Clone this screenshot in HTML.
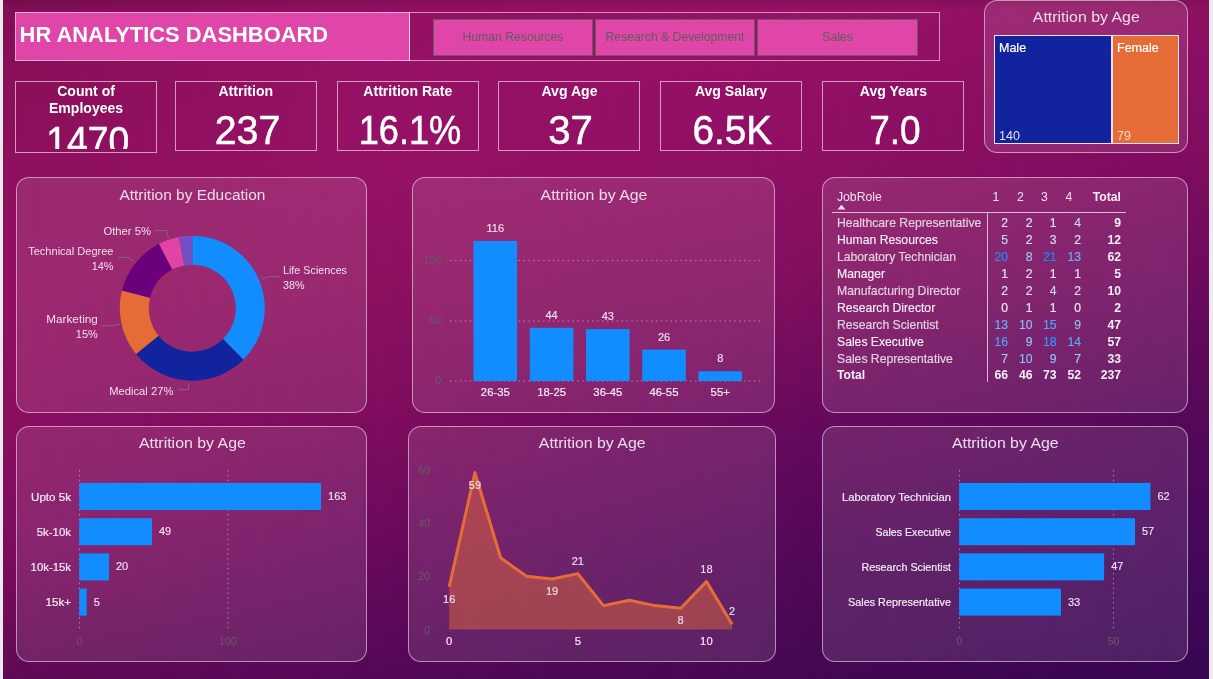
<!DOCTYPE html>
<html><head><meta charset="utf-8"><style>
*{box-sizing:border-box;margin:0;padding:0}
html,body{width:1213px;height:679px;overflow:hidden;background:#ebebeb;font-family:"Liberation Sans",sans-serif}
#cv{position:absolute;left:0;top:0;width:1213px;height:679px;overflow:hidden}
.bgl{position:absolute;left:0;top:0;width:1213px;height:679px}
.strip{position:absolute;top:0;height:679px;background:#ebebeb}
.panel{position:absolute;border:1px solid rgba(255,250,255,0.52);border-radius:13px;background:rgba(255,255,255,0.105)}
.kpi{position:absolute;top:81px;height:70px;width:142px;border:1px solid rgba(255,245,252,0.6);overflow:hidden;color:#fff;text-align:center;will-change:transform}
.kpi .t{position:absolute;left:0;right:0;top:0.6px;font-weight:bold;font-size:14.8px;line-height:17.3px}
.kpi .t span,.kpi .v span{display:inline-block;transform-origin:50% 50%}
.kpi .v{position:absolute;left:0;right:0;top:27.2px;padding-left:3px;font-size:40.2px;line-height:44px;white-space:nowrap;-webkit-text-stroke:0.5px #fff}
.btn{position:absolute;top:19px;height:37px;background:#e045a8;border:1px solid #6a5a64;color:#605e5c;font-size:12.2px;line-height:35px;text-align:center;white-space:nowrap;will-change:transform}
svg{position:absolute;left:0;top:0;will-change:transform}
svg text{font-family:"Liberation Sans",sans-serif}
</style></head><body><div id="cv"><div class="bgl" style="background:linear-gradient(to bottom,#740c4c 0px,#820e55 10px,#8a0f58 70px,#8e105e 166px,#921060 290px,#8a0f60 418px,#7e0c5e 540px,#600a55 679px);"></div>
<div class="bgl" style="background:linear-gradient(to bottom,#84105a 0px,#940f62 10px,#961266 70px,#961266 166px,#8c1060 290px,#7e0c5e 418px,#6a0a5c 540px,#520856 679px);-webkit-mask-image:linear-gradient(to right,transparent 9px,#000 390px);mask-image:linear-gradient(to right,transparent 9px,#000 390px);"></div>
<div class="bgl" style="background:linear-gradient(to bottom,#86105a 0px,#981268 10px,#941066 70px,#8e1064 166px,#800e5e 290px,#680a5c 418px,#540858 540px,#440852 679px);-webkit-mask-image:linear-gradient(to right,transparent 390px,#000 798px);mask-image:linear-gradient(to right,transparent 390px,#000 798px);"></div>
<div class="bgl" style="background:linear-gradient(to bottom,#800e58 0px,#8e1062 10px,#8c0f62 37px,#7e0c5e 166px,#6a0a5c 290px,#540858 418px,#46085a 540px,#380652 679px);-webkit-mask-image:linear-gradient(to right,transparent 798px,#000 1200px);mask-image:linear-gradient(to right,transparent 798px,#000 1200px);"></div>
<div class="abs" style="position:absolute;left:15px;top:12px;width:395px;height:49px;background:#e046a8;border:1px solid #eea8d8"></div>
<div style="position:absolute;left:409px;top:12px;width:531px;height:49px;border:1px solid rgba(255,255,255,0.55)"></div>
<div class="btn" style="left:433px;width:160px">Human Resources</div>
<div class="btn" style="left:595px;width:160px">Research &amp; Development</div>
<div class="btn" style="left:757px;width:161px">Sales</div>
<div class="kpi" style="left:15px;height:72px"><div class="t"><span style="transform:scaleX(0.95)">Count of<br>Employees</span></div><div style="position:absolute;left:0;right:0;top:0;height:67px;overflow:hidden"><div class="v" style="top:38.2px"><span style="transform:scaleX(0.93)">1470</span></div></div></div>
<div class="kpi" style="left:175px"><div class="t"><span style="transform:scaleX(0.95)">Attrition</span></div><div class="v"><span style="transform:scaleX(0.98)">237</span></div></div>
<div class="kpi" style="left:337px"><div class="t"><span style="transform:scaleX(0.95)">Attrition Rate</span></div><div class="v"><span style="transform:scaleX(0.9)">16.1%</span></div></div>
<div class="kpi" style="left:498px"><div class="t"><span style="transform:scaleX(0.95)">Avg Age</span></div><div class="v"><span style="transform:scaleX(1.0)">37</span></div></div>
<div class="kpi" style="left:660px"><div class="t"><span style="transform:scaleX(0.95)">Avg Salary</span></div><div class="v"><span style="transform:scaleX(0.965)">6.5K</span></div></div>
<div class="kpi" style="left:822px"><div class="t"><span style="transform:scaleX(0.95)">Avg Years</span></div><div class="v"><span style="transform:scaleX(0.92)">7.0</span></div></div>
<div class="panel" style="left:984px;top:0px;width:204px;height:153px;"></div>
<div class="panel" style="left:16px;top:177px;width:351px;height:236px;"></div>
<div class="panel" style="left:412px;top:177px;width:363px;height:236px;"></div>
<div class="panel" style="left:822px;top:177px;width:366px;height:236px;"></div>
<div class="panel" style="left:16px;top:426px;width:351px;height:236px;"></div>
<div class="panel" style="left:408px;top:426px;width:368px;height:236px;"></div>
<div class="panel" style="left:822px;top:426px;width:366px;height:236px;"></div>
<svg width="1213" height="679" viewBox="0 0 1213 679"><text x="1086.3" y="22.3" font-size="14.9" fill="#ecdcea" text-anchor="middle" textLength="107" lengthAdjust="spacingAndGlyphs">Attrition by Age</text><text x="192.4" y="199.5" font-size="14.9" fill="#ecdcea" text-anchor="middle" textLength="146" lengthAdjust="spacingAndGlyphs">Attrition by Education</text><text x="594" y="199.5" font-size="14.9" fill="#ecdcea" text-anchor="middle" textLength="106.8" lengthAdjust="spacingAndGlyphs">Attrition by Age</text><text x="192.4" y="448" font-size="14.9" fill="#ecdcea" text-anchor="middle" textLength="106.9" lengthAdjust="spacingAndGlyphs">Attrition by Age</text><text x="592.2" y="448" font-size="14.9" fill="#ecdcea" text-anchor="middle" textLength="106.7" lengthAdjust="spacingAndGlyphs">Attrition by Age</text><text x="1005.3" y="448" font-size="14.9" fill="#ecdcea" text-anchor="middle" textLength="106.7" lengthAdjust="spacingAndGlyphs">Attrition by Age</text><text x="19.6" y="42" font-size="22" font-weight="bold" fill="#fff" textLength="308.5" lengthAdjust="spacingAndGlyphs">HR ANALYTICS DASHBOARD</text><rect x="994.5" y="35.5" width="117" height="108" fill="#12239e" stroke="#f0e0f0" stroke-width="1"/><rect x="1112.5" y="35.5" width="66" height="108" fill="#e66c37" stroke="#f0e0f0" stroke-width="1"/><text x="999" y="52" font-size="12.5" fill="#fff" text-anchor="start" font-weight="normal"  stroke="#fff" stroke-width="0.2">Male</text><text x="1117" y="52" font-size="12.5" fill="#fff" text-anchor="start" font-weight="normal"  stroke="#fff" stroke-width="0.2">Female</text><text x="999" y="140" font-size="12.5" fill="#e8e0f0" text-anchor="start" font-weight="normal" >140</text><text x="1117" y="140" font-size="12.5" fill="#f5d8c8" text-anchor="start" font-weight="normal" >79</text><path d="M192.30,235.70 A72.5,72.5 0 0 1 243.40,359.63 L222.96,339.06 A43.5,43.5 0 0 0 192.30,264.70 Z" fill="#118dff"/><path d="M243.40,359.63 A72.5,72.5 0 0 1 136.05,353.94 L158.55,335.64 A43.5,43.5 0 0 0 222.96,339.06 Z" fill="#12239e"/><path d="M136.05,353.94 A72.5,72.5 0 0 1 121.97,290.60 L150.10,297.64 A43.5,43.5 0 0 0 158.55,335.64 Z" fill="#e66c37"/><path d="M121.97,290.60 A72.5,72.5 0 0 1 159.00,243.80 L172.32,269.56 A43.5,43.5 0 0 0 150.10,297.64 Z" fill="#6b007b"/><path d="M159.00,243.80 A72.5,72.5 0 0 1 178.92,236.94 L184.27,265.45 A43.5,43.5 0 0 0 172.32,269.56 Z" fill="#e044a7"/><path d="M178.92,236.94 A72.5,72.5 0 0 1 192.30,235.70 L192.30,264.70 A43.5,43.5 0 0 0 184.27,265.45 Z" fill="#744ec2"/><text x="283" y="274" font-size="11" fill="#eee0ee" text-anchor="start" textLength="64" lengthAdjust="spacingAndGlyphs">Life Sciences</text><text x="283" y="289" font-size="11" fill="#eee0ee" text-anchor="start" textLength="21.5" lengthAdjust="spacingAndGlyphs">38%</text><text x="109.2" y="395" font-size="11" fill="#eee0ee" text-anchor="start" textLength="64.2" lengthAdjust="spacingAndGlyphs">Medical 27%</text><text x="97.8" y="323" font-size="11" fill="#eee0ee" text-anchor="end" textLength="51.5" lengthAdjust="spacingAndGlyphs">Marketing</text><text x="97.8" y="338" font-size="11" fill="#eee0ee" text-anchor="end" textLength="22" lengthAdjust="spacingAndGlyphs">15%</text><text x="113.5" y="255" font-size="11" fill="#eee0ee" text-anchor="end" textLength="85.3" lengthAdjust="spacingAndGlyphs">Technical Degree</text><text x="113.5" y="270" font-size="11" fill="#eee0ee" text-anchor="end" textLength="21.8" lengthAdjust="spacingAndGlyphs">14%</text><text x="151" y="235" font-size="11" fill="#eee0ee" text-anchor="end" textLength="47.6" lengthAdjust="spacingAndGlyphs">Other 5%</text><polyline points="155,230.5 166.5,230.5 168.4,237.6" fill="none" stroke="#8a6282" stroke-width="1"/><polyline points="117.7,257.3 128.2,257.5 134.5,261.9" fill="none" stroke="#8a6282" stroke-width="1"/><polyline points="101.4,325.7 113.8,325.7 119.6,324.2" fill="none" stroke="#8a6282" stroke-width="1"/><polyline points="261.3,278.9 269.6,276.6 280,276.6" fill="none" stroke="#8a6282" stroke-width="1"/><polyline points="177.8,389.7 188.4,389.7 188.8,383.1" fill="none" stroke="#8a6282" stroke-width="1"/><line x1="450" y1="260.5" x2="763" y2="260.5" stroke="rgba(230,200,230,0.55)" stroke-width="1" stroke-dasharray="1.5,3.4"/><text x="441" y="263.7" font-size="10.5" fill="#675c62" text-anchor="end" font-weight="normal" >100</text><line x1="450" y1="321" x2="763" y2="321" stroke="rgba(230,200,230,0.55)" stroke-width="1" stroke-dasharray="1.5,3.4"/><text x="441" y="324.2" font-size="10.5" fill="#675c62" text-anchor="end" font-weight="normal" >50</text><line x1="450" y1="381" x2="763" y2="381" stroke="rgba(230,200,230,0.55)" stroke-width="1" stroke-dasharray="1.5,3.4"/><text x="441" y="384.2" font-size="10.5" fill="#675c62" text-anchor="end" font-weight="normal" >0</text><rect x="473.5" y="240.9" width="43.6" height="140.1" fill="#118dff"/><text x="495.3" y="231.872" font-size="11" fill="#eee0ee" text-anchor="middle" font-weight="normal"  stroke="#eee0ee" stroke-width="0.15">116</text><text x="495.3" y="396" font-size="11.3" fill="#f4eaf4" text-anchor="middle" font-weight="normal"  stroke="#f4eaf4" stroke-width="0.2">26-35</text><rect x="529.8" y="327.8" width="43.6" height="53.2" fill="#118dff"/><text x="551.5999999999999" y="318.848" font-size="11" fill="#eee0ee" text-anchor="middle" font-weight="normal"  stroke="#eee0ee" stroke-width="0.15">44</text><text x="551.5999999999999" y="396" font-size="11.3" fill="#f4eaf4" text-anchor="middle" font-weight="normal"  stroke="#f4eaf4" stroke-width="0.2">18-25</text><rect x="586" y="329.1" width="43.6" height="51.9" fill="#118dff"/><text x="607.8" y="320.056" font-size="11" fill="#eee0ee" text-anchor="middle" font-weight="normal"  stroke="#eee0ee" stroke-width="0.15">43</text><text x="607.8" y="396" font-size="11.3" fill="#f4eaf4" text-anchor="middle" font-weight="normal"  stroke="#f4eaf4" stroke-width="0.2">36-45</text><rect x="642.2" y="349.6" width="43.6" height="31.4" fill="#118dff"/><text x="664.0" y="340.592" font-size="11" fill="#eee0ee" text-anchor="middle" font-weight="normal"  stroke="#eee0ee" stroke-width="0.15">26</text><text x="664.0" y="396" font-size="11.3" fill="#f4eaf4" text-anchor="middle" font-weight="normal"  stroke="#f4eaf4" stroke-width="0.2">46-55</text><rect x="698.4" y="371.3" width="43.6" height="9.7" fill="#118dff"/><text x="720.1999999999999" y="362.336" font-size="11" fill="#eee0ee" text-anchor="middle" font-weight="normal"  stroke="#eee0ee" stroke-width="0.15">8</text><text x="720.1999999999999" y="396" font-size="11.3" fill="#f4eaf4" text-anchor="middle" font-weight="normal"  stroke="#f4eaf4" stroke-width="0.2">55+</text><text x="837" y="201" font-size="12.2" fill="#f0e4f0" text-anchor="start" font-weight="normal" >JobRole</text><path d="M837.5,209.5 L841.5,204.8 L845.5,209.5 Z" fill="#f0e4f0"/><text x="996" y="201" font-size="12.2" fill="#f0e4f0" text-anchor="middle" font-weight="normal" >1</text><text x="1020.5" y="201" font-size="12.2" fill="#f0e4f0" text-anchor="middle" font-weight="normal" >2</text><text x="1044.5" y="201" font-size="12.2" fill="#f0e4f0" text-anchor="middle" font-weight="normal" >3</text><text x="1069" y="201" font-size="12.2" fill="#f0e4f0" text-anchor="middle" font-weight="normal" >4</text><text x="1121" y="201" font-size="12.2" fill="#f4eaf4" text-anchor="end" font-weight="bold" >Total</text><line x1="832" y1="212.5" x2="1126" y2="212.5" stroke="#d8bcd6" stroke-width="1"/><line x1="987.5" y1="212" x2="987.5" y2="382" stroke="#d8bcd6" stroke-width="1"/><text x="837" y="226.5" font-size="12.2" fill="#e2d2e2" text-anchor="start" font-weight="normal"  stroke="#e2d2e2" stroke-width="0.15">Healthcare Representative</text><text x="1008" y="226.5" font-size="12.2" fill="#dde1f7" text-anchor="end" font-weight="normal"  stroke="#dde1f7" stroke-width="0.15">2</text><text x="1032.5" y="226.5" font-size="12.2" fill="#dde1f7" text-anchor="end" font-weight="normal"  stroke="#dde1f7" stroke-width="0.15">2</text><text x="1056.5" y="226.5" font-size="12.2" fill="#e7e6f6" text-anchor="end" font-weight="normal"  stroke="#e7e6f6" stroke-width="0.15">1</text><text x="1081" y="226.5" font-size="12.2" fill="#c7d8f8" text-anchor="end" font-weight="normal"  stroke="#c7d8f8" stroke-width="0.15">4</text><text x="1121" y="226.5" font-size="12.2" fill="#f6eef6" text-anchor="end" font-weight="bold" >9</text><text x="837" y="243.5" font-size="12.2" fill="#f6eef6" text-anchor="start" font-weight="normal"  stroke="#f6eef6" stroke-width="0.15">Human Resources</text><text x="1008" y="243.5" font-size="12.2" fill="#bcd4f8" text-anchor="end" font-weight="normal"  stroke="#bcd4f8" stroke-width="0.15">5</text><text x="1032.5" y="243.5" font-size="12.2" fill="#dde1f7" text-anchor="end" font-weight="normal"  stroke="#dde1f7" stroke-width="0.15">2</text><text x="1056.5" y="243.5" font-size="12.2" fill="#d2ddf7" text-anchor="end" font-weight="normal"  stroke="#d2ddf7" stroke-width="0.15">3</text><text x="1081" y="243.5" font-size="12.2" fill="#dde1f7" text-anchor="end" font-weight="normal"  stroke="#dde1f7" stroke-width="0.15">2</text><text x="1121" y="243.5" font-size="12.2" fill="#f6eef6" text-anchor="end" font-weight="bold" >12</text><text x="837" y="260.5" font-size="12.2" fill="#e2d2e2" text-anchor="start" font-weight="normal"  stroke="#e2d2e2" stroke-width="0.15">Laboratory Technician</text><text x="1008" y="260.5" font-size="12.2" fill="#1c91ff" text-anchor="end" font-weight="normal"  stroke="#1c91ff" stroke-width="0.15">20</text><text x="1032.5" y="260.5" font-size="12.2" fill="#9cc7f9" text-anchor="end" font-weight="normal"  stroke="#9cc7f9" stroke-width="0.15">8</text><text x="1056.5" y="260.5" font-size="12.2" fill="#118dff" text-anchor="end" font-weight="normal"  stroke="#118dff" stroke-width="0.15">21</text><text x="1081" y="260.5" font-size="12.2" fill="#67b0fc" text-anchor="end" font-weight="normal"  stroke="#67b0fc" stroke-width="0.15">13</text><text x="1121" y="260.5" font-size="12.2" fill="#f6eef6" text-anchor="end" font-weight="bold" >62</text><text x="837" y="277.5" font-size="12.2" fill="#f6eef6" text-anchor="start" font-weight="normal"  stroke="#f6eef6" stroke-width="0.15">Manager</text><text x="1008" y="277.5" font-size="12.2" fill="#e7e6f6" text-anchor="end" font-weight="normal"  stroke="#e7e6f6" stroke-width="0.15">1</text><text x="1032.5" y="277.5" font-size="12.2" fill="#dde1f7" text-anchor="end" font-weight="normal"  stroke="#dde1f7" stroke-width="0.15">2</text><text x="1056.5" y="277.5" font-size="12.2" fill="#e7e6f6" text-anchor="end" font-weight="normal"  stroke="#e7e6f6" stroke-width="0.15">1</text><text x="1081" y="277.5" font-size="12.2" fill="#e7e6f6" text-anchor="end" font-weight="normal"  stroke="#e7e6f6" stroke-width="0.15">1</text><text x="1121" y="277.5" font-size="12.2" fill="#f6eef6" text-anchor="end" font-weight="bold" >5</text><text x="837" y="294.5" font-size="12.2" fill="#e2d2e2" text-anchor="start" font-weight="normal"  stroke="#e2d2e2" stroke-width="0.15">Manufacturing Director</text><text x="1008" y="294.5" font-size="12.2" fill="#dde1f7" text-anchor="end" font-weight="normal"  stroke="#dde1f7" stroke-width="0.15">2</text><text x="1032.5" y="294.5" font-size="12.2" fill="#dde1f7" text-anchor="end" font-weight="normal"  stroke="#dde1f7" stroke-width="0.15">2</text><text x="1056.5" y="294.5" font-size="12.2" fill="#c7d8f8" text-anchor="end" font-weight="normal"  stroke="#c7d8f8" stroke-width="0.15">4</text><text x="1081" y="294.5" font-size="12.2" fill="#dde1f7" text-anchor="end" font-weight="normal"  stroke="#dde1f7" stroke-width="0.15">2</text><text x="1121" y="294.5" font-size="12.2" fill="#f6eef6" text-anchor="end" font-weight="bold" >10</text><text x="837" y="311.5" font-size="12.2" fill="#f6eef6" text-anchor="start" font-weight="normal"  stroke="#f6eef6" stroke-width="0.15">Research Director</text><text x="1008" y="311.5" font-size="12.2" fill="#f2eaf6" text-anchor="end" font-weight="normal"  stroke="#f2eaf6" stroke-width="0.15">0</text><text x="1032.5" y="311.5" font-size="12.2" fill="#e7e6f6" text-anchor="end" font-weight="normal"  stroke="#e7e6f6" stroke-width="0.15">1</text><text x="1056.5" y="311.5" font-size="12.2" fill="#e7e6f6" text-anchor="end" font-weight="normal"  stroke="#e7e6f6" stroke-width="0.15">1</text><text x="1081" y="311.5" font-size="12.2" fill="#f2eaf6" text-anchor="end" font-weight="normal"  stroke="#f2eaf6" stroke-width="0.15">0</text><text x="1121" y="311.5" font-size="12.2" fill="#f6eef6" text-anchor="end" font-weight="bold" >2</text><text x="837" y="328.5" font-size="12.2" fill="#e2d2e2" text-anchor="start" font-weight="normal"  stroke="#e2d2e2" stroke-width="0.15">Research Scientist</text><text x="1008" y="328.5" font-size="12.2" fill="#67b0fc" text-anchor="end" font-weight="normal"  stroke="#67b0fc" stroke-width="0.15">13</text><text x="1032.5" y="328.5" font-size="12.2" fill="#87befa" text-anchor="end" font-weight="normal"  stroke="#87befa" stroke-width="0.15">10</text><text x="1056.5" y="328.5" font-size="12.2" fill="#51a8fc" text-anchor="end" font-weight="normal"  stroke="#51a8fc" stroke-width="0.15">15</text><text x="1081" y="328.5" font-size="12.2" fill="#92c2fa" text-anchor="end" font-weight="normal"  stroke="#92c2fa" stroke-width="0.15">9</text><text x="1121" y="328.5" font-size="12.2" fill="#f6eef6" text-anchor="end" font-weight="bold" >47</text><text x="837" y="345.5" font-size="12.2" fill="#f6eef6" text-anchor="start" font-weight="normal"  stroke="#f6eef6" stroke-width="0.15">Sales Executive</text><text x="1008" y="345.5" font-size="12.2" fill="#47a3fd" text-anchor="end" font-weight="normal"  stroke="#47a3fd" stroke-width="0.15">16</text><text x="1032.5" y="345.5" font-size="12.2" fill="#92c2fa" text-anchor="end" font-weight="normal"  stroke="#92c2fa" stroke-width="0.15">9</text><text x="1056.5" y="345.5" font-size="12.2" fill="#319afe" text-anchor="end" font-weight="normal"  stroke="#319afe" stroke-width="0.15">18</text><text x="1081" y="345.5" font-size="12.2" fill="#5cacfc" text-anchor="end" font-weight="normal"  stroke="#5cacfc" stroke-width="0.15">14</text><text x="1121" y="345.5" font-size="12.2" fill="#f6eef6" text-anchor="end" font-weight="bold" >57</text><text x="837" y="362.5" font-size="12.2" fill="#e2d2e2" text-anchor="start" font-weight="normal"  stroke="#e2d2e2" stroke-width="0.15">Sales Representative</text><text x="1008" y="362.5" font-size="12.2" fill="#a7cbf9" text-anchor="end" font-weight="normal"  stroke="#a7cbf9" stroke-width="0.15">7</text><text x="1032.5" y="362.5" font-size="12.2" fill="#87befa" text-anchor="end" font-weight="normal"  stroke="#87befa" stroke-width="0.15">10</text><text x="1056.5" y="362.5" font-size="12.2" fill="#92c2fa" text-anchor="end" font-weight="normal"  stroke="#92c2fa" stroke-width="0.15">9</text><text x="1081" y="362.5" font-size="12.2" fill="#a7cbf9" text-anchor="end" font-weight="normal"  stroke="#a7cbf9" stroke-width="0.15">7</text><text x="1121" y="362.5" font-size="12.2" fill="#f6eef6" text-anchor="end" font-weight="bold" >33</text><text x="837" y="378.5" font-size="12.2" fill="#f6eef6" text-anchor="start" font-weight="bold" >Total</text><text x="1008" y="378.5" font-size="12.2" fill="#f6eef6" text-anchor="end" font-weight="bold" >66</text><text x="1032.5" y="378.5" font-size="12.2" fill="#f6eef6" text-anchor="end" font-weight="bold" >46</text><text x="1056.5" y="378.5" font-size="12.2" fill="#f6eef6" text-anchor="end" font-weight="bold" >73</text><text x="1081" y="378.5" font-size="12.2" fill="#f6eef6" text-anchor="end" font-weight="bold" >52</text><text x="1121" y="378.5" font-size="12.2" fill="#f6eef6" text-anchor="end" font-weight="bold" >237</text><line x1="79.5" y1="470" x2="79.5" y2="630" stroke="rgba(230,200,230,0.55)" stroke-width="1" stroke-dasharray="1.5,3.4"/><text x="79.5" y="644.5" font-size="10.5" fill="#675c62" text-anchor="middle" font-weight="normal" >0</text><line x1="227.8" y1="470" x2="227.8" y2="630" stroke="rgba(230,200,230,0.55)" stroke-width="1" stroke-dasharray="1.5,3.4"/><text x="227.8" y="644.5" font-size="10.5" fill="#675c62" text-anchor="middle" font-weight="normal" >100</text><rect x="79.3" y="483.0" width="241.7" height="27" fill="#118dff"/><text x="71" y="500.5" font-size="11.3" fill="#f4eaf4" text-anchor="end" stroke="#f4eaf4" stroke-width="0.2" textLength="40" lengthAdjust="spacingAndGlyphs">Upto 5k</text><text x="328.029" y="500.0" font-size="11" fill="#eee0ee" text-anchor="start" font-weight="normal"  stroke="#eee0ee" stroke-width="0.15">163</text><rect x="79.3" y="518.2" width="72.7" height="27" fill="#118dff"/><text x="71" y="535.7" font-size="11.3" fill="#f4eaf4" text-anchor="end" stroke="#f4eaf4" stroke-width="0.2" textLength="34.3" lengthAdjust="spacingAndGlyphs">5k-10k</text><text x="158.96699999999998" y="535.2" font-size="11" fill="#eee0ee" text-anchor="start" font-weight="normal"  stroke="#eee0ee" stroke-width="0.15">49</text><rect x="79.3" y="553.4" width="29.7" height="27" fill="#118dff"/><text x="71" y="570.9" font-size="11.3" fill="#f4eaf4" text-anchor="end" stroke="#f4eaf4" stroke-width="0.2" textLength="40.4" lengthAdjust="spacingAndGlyphs">10k-15k</text><text x="115.96000000000001" y="570.4" font-size="11" fill="#eee0ee" text-anchor="start" font-weight="normal"  stroke="#eee0ee" stroke-width="0.15">20</text><rect x="79.3" y="588.6" width="7.4" height="27" fill="#118dff"/><text x="71" y="606.1" font-size="11.3" fill="#f4eaf4" text-anchor="end" stroke="#f4eaf4" stroke-width="0.2" textLength="25.5" lengthAdjust="spacingAndGlyphs">15k+</text><text x="93.715" y="605.6" font-size="11" fill="#eee0ee" text-anchor="start" font-weight="normal"  stroke="#eee0ee" stroke-width="0.15">5</text><line x1="959.5" y1="470" x2="959.5" y2="630" stroke="rgba(230,200,230,0.55)" stroke-width="1" stroke-dasharray="1.5,3.4"/><text x="959.5" y="644.5" font-size="10.5" fill="#675c62" text-anchor="middle" font-weight="normal" >0</text><line x1="1113.5" y1="470" x2="1113.5" y2="630" stroke="rgba(230,200,230,0.55)" stroke-width="1" stroke-dasharray="1.5,3.4"/><text x="1113.5" y="644.5" font-size="10.5" fill="#675c62" text-anchor="middle" font-weight="normal" >50</text><rect x="959.2" y="483.0" width="191.2" height="27" fill="#118dff"/><text x="951" y="500.5" font-size="11.3" fill="#f4eaf4" text-anchor="end" stroke="#f4eaf4" stroke-width="0.2" textLength="109" lengthAdjust="spacingAndGlyphs">Laboratory Technician</text><text x="1157.408" y="500.0" font-size="11" fill="#eee0ee" text-anchor="start" font-weight="normal"  stroke="#eee0ee" stroke-width="0.15">62</text><rect x="959.2" y="518.2" width="175.8" height="27" fill="#118dff"/><text x="951" y="535.7" font-size="11.3" fill="#f4eaf4" text-anchor="end" stroke="#f4eaf4" stroke-width="0.2" textLength="75.5" lengthAdjust="spacingAndGlyphs">Sales Executive</text><text x="1141.988" y="535.2" font-size="11" fill="#eee0ee" text-anchor="start" font-weight="normal"  stroke="#eee0ee" stroke-width="0.15">57</text><rect x="959.2" y="553.4" width="144.9" height="27" fill="#118dff"/><text x="951" y="570.9" font-size="11.3" fill="#f4eaf4" text-anchor="end" stroke="#f4eaf4" stroke-width="0.2" textLength="89.5" lengthAdjust="spacingAndGlyphs">Research Scientist</text><text x="1111.1480000000001" y="570.4" font-size="11" fill="#eee0ee" text-anchor="start" font-weight="normal"  stroke="#eee0ee" stroke-width="0.15">47</text><rect x="959.2" y="588.6" width="101.8" height="27" fill="#118dff"/><text x="951" y="606.1" font-size="11.3" fill="#f4eaf4" text-anchor="end" stroke="#f4eaf4" stroke-width="0.2" textLength="103" lengthAdjust="spacingAndGlyphs">Sales Representative</text><text x="1067.972" y="605.6" font-size="11" fill="#eee0ee" text-anchor="start" font-weight="normal"  stroke="#eee0ee" stroke-width="0.15">33</text><text x="430" y="474" font-size="10.5" fill="#675c62" text-anchor="end" font-weight="normal" >60</text><text x="430" y="527" font-size="10.5" fill="#675c62" text-anchor="end" font-weight="normal" >40</text><text x="430" y="580.1" font-size="10.5" fill="#675c62" text-anchor="end" font-weight="normal" >20</text><text x="430" y="633.5" font-size="10.5" fill="#675c62" text-anchor="end" font-weight="normal" >0</text><path d="M449.2,586.9 L474.9,472.6 L500.6,557.7 L526.4,576.3 L552.1,579.0 L577.8,573.6 L603.5,605.6 L629.2,600.2 L655.0,605.6 L680.7,608.2 L706.4,581.6 L732.1,624.2 L732.1,629.5 L449.2,629.5 Z" fill="rgba(230,108,55,0.45)"/><path d="M449.2,586.9 L474.9,472.6 L500.6,557.7 L526.4,576.3 L552.1,579.0 L577.8,573.6 L603.5,605.6 L629.2,600.2 L655.0,605.6 L680.7,608.2 L706.4,581.6 L732.1,624.2" fill="none" stroke="#e66c37" stroke-width="3" stroke-linejoin="round"/><text x="449.2" y="645" font-size="11.3" fill="#f4eaf4" text-anchor="middle" font-weight="normal"  stroke="#f4eaf4" stroke-width="0.2">0</text><text x="577.8" y="645" font-size="11.3" fill="#f4eaf4" text-anchor="middle" font-weight="normal"  stroke="#f4eaf4" stroke-width="0.2">5</text><text x="706.4" y="645" font-size="11.3" fill="#f4eaf4" text-anchor="middle" font-weight="normal"  stroke="#f4eaf4" stroke-width="0.2">10</text><text x="449.2" y="603.1400000000001" font-size="11" fill="#eee0ee" text-anchor="middle" font-weight="normal"  stroke="#eee0ee" stroke-width="0.15">16</text><text x="474.91999999999996" y="488.76" font-size="11" fill="#eee0ee" text-anchor="middle" font-weight="normal"  stroke="#eee0ee" stroke-width="0.15">59</text><text x="552.0799999999999" y="595.1600000000001" font-size="11" fill="#eee0ee" text-anchor="middle" font-weight="normal"  stroke="#eee0ee" stroke-width="0.15">19</text><text x="577.8" y="564.64" font-size="11" fill="#eee0ee" text-anchor="middle" font-weight="normal"  stroke="#eee0ee" stroke-width="0.15">21</text><text x="680.68" y="624.4200000000001" font-size="11" fill="#eee0ee" text-anchor="middle" font-weight="normal"  stroke="#eee0ee" stroke-width="0.15">8</text><text x="706.4" y="572.62" font-size="11" fill="#eee0ee" text-anchor="middle" font-weight="normal"  stroke="#eee0ee" stroke-width="0.15">18</text><text x="732.1199999999999" y="615.18" font-size="11" fill="#eee0ee" text-anchor="middle" font-weight="normal"  stroke="#eee0ee" stroke-width="0.15">2</text></svg>
<div class="strip" style="left:0;width:3px"></div>
<div class="strip" style="left:1209px;width:4px"></div></div></body></html>
